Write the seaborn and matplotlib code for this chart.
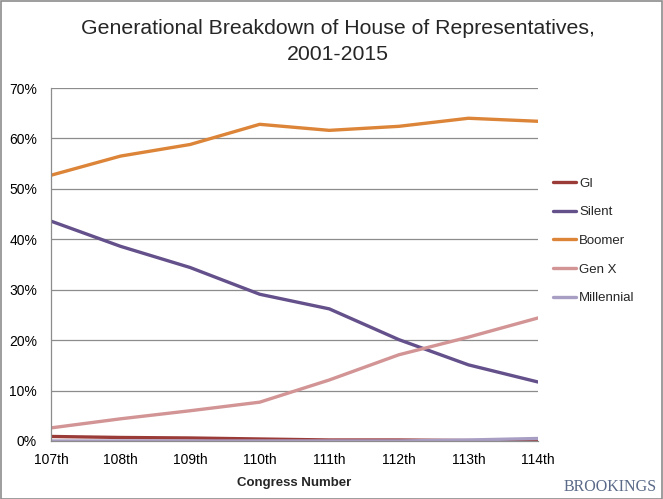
import matplotlib
matplotlib.use("Agg")
import matplotlib.pyplot as plt
import seaborn as sns
import pandas as pd
from matplotlib.patches import Rectangle
from matplotlib.ticker import FuncFormatter

congresses = ["107th", "108th", "109th", "110th", "111th", "112th", "113th", "114th"]
gi = [0.9, 0.7, 0.6, 0.4, 0.2, 0.2, 0.1, 0.0]
silent = [43.6, 38.6, 34.4, 29.1, 26.2, 20.1, 15.1, 11.7]
boomer = [52.7, 56.5, 58.8, 62.8, 61.6, 62.4, 64.0, 63.4]
genx = [2.6, 4.4, 6.0, 7.7, 12.1, 17.1, 20.6, 24.4]
millennial = [0.0, 0.0, 0.0, 0.0, 0.0, 0.0, 0.2, 0.5]

series_names = ["GI", "Silent", "Boomer", "Gen X", "Millennial"]
series_vals = [gi, silent, boomer, genx, millennial]
colors = ["#9A3B38", "#64508A", "#DC8438", "#D29494", "#A89EC4"]

rows = []
for name, vals in zip(series_names, series_vals):
    for i, (c, v) in enumerate(zip(congresses, vals)):
        rows.append({"Congress": c, "pos": i, "share": v, "gen": name})
df = pd.DataFrame(rows)

sns.set_theme(style="white")
plt.rcParams["font.family"] = ["Liberation Sans", "DejaVu Sans"]

fig = plt.figure(figsize=(6.63, 4.99), dpi=100)
ax = fig.add_axes([51 / 663, 1 - 441 / 499, (538 - 51) / 663, (441 - 88) / 499])

sns.lineplot(data=df, x="pos", y="share", hue="gen", hue_order=series_names,
             palette=colors, linewidth=2.4, ax=ax, legend=False, sort=False)

ax.set_xlim(0, len(congresses) - 1)
ax.set_ylim(0, 70)
ax.set_yticks(range(0, 71, 10))
ax.yaxis.set_major_formatter(FuncFormatter(lambda v, p: f"{int(v)}%"))
ax.set_xticks(range(len(congresses)))
ax.set_xticklabels(congresses)
ax.tick_params(axis="both", labelsize=10, colors="black", length=0)
ax.tick_params(axis="x", pad=9)
ax.tick_params(axis="y", pad=10)
ax.grid(axis="y", color="#8C8C8C", linewidth=0.9)
ax.set_axisbelow(True)
for s in ["top", "right"]:
    ax.spines[s].set_visible(False)
ax.spines["left"].set_color("#8C8C8C")
ax.spines["bottom"].set_color("#8C8C8C")
ax.spines["left"].set_linewidth(0.9)
ax.spines["bottom"].set_linewidth(0.9)
ax.set_ylabel("")
ax.set_xlabel("Congress Number", fontsize=9.5, fontweight="bold", labelpad=7)

handles = [plt.Line2D([], [], color=c, linewidth=2.4) for c in colors]
fig.legend(handles, series_names, loc="upper left",
           bbox_to_anchor=(548 / 663, 1 - 172 / 499), frameon=False,
           fontsize=9.5, handlelength=1.7, handletextpad=0.25,
           labelspacing=1.25, borderaxespad=0)

fig.text(338 / 663, 1 - 29 / 499, "Generational Breakdown of House of Representatives,",
         ha="center", va="center", fontsize=15.3)
fig.text(338 / 663, 1 - 54 / 499, "2001-2015", ha="center", va="center", fontsize=15.3)

fig.text(657 / 663, 1 - 487 / 499, "BROOKINGS", ha="right", va="center",
         fontsize=11.5, color="#5A6A88", family=["Liberation Serif", "DejaVu Serif"])

fig.patches.append(Rectangle((0.5 / 663, 0.5 / 499), 1 - 1.5 / 663, 1 - 1.5 / 499,
                             transform=fig.transFigure, fill=False,
                             edgecolor="#8C8C8C", linewidth=1.2))

fig.savefig("out.png", dpi=100)
